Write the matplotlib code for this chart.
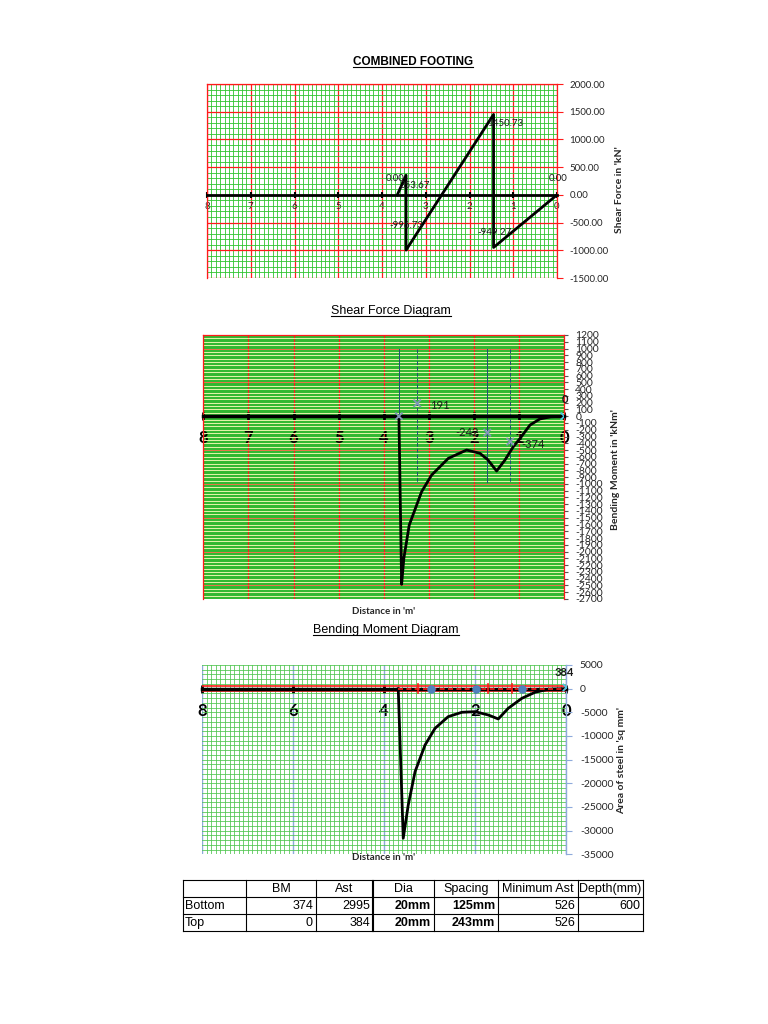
import matplotlib
matplotlib.use("Agg")
import matplotlib.pyplot as plt
from matplotlib.ticker import MultipleLocator, FormatStrFormatter
from matplotlib.lines import Line2D
import numpy as np

plt.rcParams['axes.unicode_minus'] = False
plt.rcParams['font.family'] = ['Lato', 'DejaVu Sans']

# ---------------- data ----------------
# Shear force diagram
sf_x = [3.65, 3.45, 3.45, 1.45, 1.45, 0.0]
sf_y = [0.0, 353.67, -996.73, 1450.73, -949.27, 0.0]

# Bending moment diagram
bm_x = [3.665, 3.605, 3.556, 3.436, 3.162, 2.94, 2.57, 2.165, 1.87, 1.70, 1.50,
        1.315, 1.13, 0.98, 0.76, 0.54, 0.30, 0.0]
bm_y = [0, -2483, -2099, -1607, -1115, -869, -622, -499, -548, -640, -809,
        -647, -450, -327, -130, -40, -8, 0]
sec_x = [3.665, 3.26, 1.707, 1.20, 0.0]
sec_bm = [0, 191, -242, -374, 0]
sec_lines_x = [3.665, 3.26, 1.707, 1.20]

# Area of steel diagram
ast_x = [3.69, 3.58, 3.47, 3.32, 3.10, 2.88, 2.59, 2.29, 2.0, 1.71, 1.49, 1.27,
         0.97, 0.68, 0.39, 0.0]
ast_y = [0, -31600, -24580, -17540, -11900, -8370, -5910, -4990, -4860, -5560,
         -6400, -4140, -2030, -760, -130, 0]
ast_marks_x = [3.25, 1.71, 1.19]
bar_x = [2.98, 1.98, 0.97]
top_ast = 384
min_ast = 526

# Table
tbl_header = ["", "BM", "Ast", "Dia", "Spacing", "Minimum Ast", "Depth(mm)"]
tbl_rows = [["Bottom", "374", "2995", "20mm", "125mm", "526", "600"],
            ["Top", "0", "384", "20mm", "243mm", "526", ""]]

# ---------------- figure ----------------
W, H = 768, 1024
fig = plt.figure(figsize=(W / 100, H / 100), dpi=100)


def box(l, t, r, b):
    return [l / W, 1 - b / H, (r - l) / W, (b - t) / H]


# overlay for titles / table
ov = fig.add_axes([0, 0, 1, 1], zorder=5)
ov.set_xlim(0, W)
ov.set_ylim(H, 0)
ov.axis('off')

# ---------- top chart: shear force ----------
ax1 = fig.add_axes(box(207, 84, 557, 278))
ax1.set_xlim(8, 0)
ax1.set_ylim(-1500, 2000)
ax1.xaxis.set_major_locator(MultipleLocator(1))
ax1.xaxis.set_minor_locator(MultipleLocator(0.1))
ax1.yaxis.set_major_locator(MultipleLocator(500))
ax1.yaxis.set_minor_locator(MultipleLocator(100))
ax1.grid(which='minor', color='#2ec42e', lw=0.6)
ax1.grid(which='major', color='#ff1a1a', lw=0.9)
ax1.set_axisbelow(True)
for s in ['left', 'top', 'right']:
    ax1.spines[s].set_color('#ff1a1a')
    ax1.spines[s].set_linewidth(0.9)
ax1.spines['bottom'].set_position(('data', 0))
ax1.spines['bottom'].set_linewidth(2)
ax1.yaxis.tick_right()
ax1.yaxis.set_major_formatter(FormatStrFormatter('%.2f'))
ax1.tick_params(axis='y', which='major', labelsize=7, colors='#ff1a1a',
                labelcolor='#262626', length=4, pad=5)
ax1.tick_params(axis='y', which='minor', length=0)
ax1.tick_params(axis='x', which='major', direction='inout', length=5, width=1.5,
                labelsize=7, labelcolor='#262626', pad=3)
ax1.tick_params(axis='x', which='minor', length=0)
ax1.plot(sf_x, sf_y, color='black', lw=2, zorder=3)
sf_offsets = [(-1.5, 11.5), (6, -7.7), (0, 18), (8.5, -6.8), (0.6, 10.7), (0.6, 11.5)]
for x, y, off in zip(sf_x, sf_y, sf_offsets):
    ax1.annotate(f"{y:.2f}", (x, y), xytext=off, textcoords='offset points',
                 ha='center', va='center', fontsize=7, color='#1a1a1a', zorder=4)

# ---------- middle chart: bending moment ----------
ax2 = fig.add_axes(box(203.3, 335, 564.3, 599))
ax2.set_xlim(8, 0)
ax2.set_ylim(-2700, 1200)
ax2.set_facecolor('#30b830')
ax2.xaxis.set_major_locator(MultipleLocator(1))
ax2.yaxis.set_major_locator(MultipleLocator(100))
ax2.yaxis.set_minor_locator(MultipleLocator(50))
ax2.grid(which='both', axis='y', color='#dff2a6', lw=0.75)
ax2.grid(which='major', axis='x', color='#ff1a1a', lw=0.9)
for yv in np.arange(-2500, 1201, 500):
    ax2.axhline(yv, color='#e8603a', lw=0.6, zorder=0.6)
ax2.set_axisbelow(True)
for s in ['left', 'top', 'right']:
    ax2.spines[s].set_color('#ff1a1a')
    ax2.spines[s].set_linewidth(0.9)
ax2.spines['bottom'].set_position(('data', 0))
ax2.spines['bottom'].set_linewidth(2.5)
ax2.yaxis.tick_right()
ax2.yaxis.set_major_formatter(FormatStrFormatter('%d'))
ax2.tick_params(axis='y', which='major', labelsize=7.5, colors='#555555',
                labelcolor='#262626', length=3, pad=5)
ax2.tick_params(axis='y', which='minor', length=0)
ax2.tick_params(axis='x', which='major', direction='inout', length=6, width=2,
                labelsize=12, pad=7)
for lab in ax2.get_xticklabels():
    lab.set_fontweight('bold')
for i, xv in enumerate(sec_lines_x):
    ax2.plot([xv, xv], [1000, -970], color='#1f4e79', lw=0.7,
             ls='-' if i % 2 == 0 else (0, (4, 2)), zorder=2)
ax2.plot(bm_x, bm_y, color='black', lw=2, zorder=3)
mcols = ['#8096b8', '#8096b8', '#8096b8', '#8096b8', '#4fc3e0']
ax2.scatter(sec_x, sec_bm, marker='x', s=28, c=mcols, linewidths=1.3, zorder=4)
bm_offsets = [None, (16.4, -1.3), (-14.7, 0.4), (16.4, -1.8), (0.5, 12.4)]
for x, y, off in zip(sec_x, sec_bm, bm_offsets):
    if off is None:
        continue
    ax2.annotate(f"{y:d}", (x, y), xytext=off, textcoords='offset points',
                 ha='center', va='center', fontsize=8, color='#1a1a1a',
                 fontweight='bold' if x == 0 else 'normal', zorder=5)

# ---------- bottom chart: area of steel ----------
ax3 = fig.add_axes(box(202.3, 665, 566, 854.3))
ax3.set_xlim(8, 0)
ax3.set_ylim(-35000, 5000)
ax3.xaxis.set_major_locator(MultipleLocator(2))
ax3.xaxis.set_minor_locator(MultipleLocator(0.1))
ax3.yaxis.set_major_locator(MultipleLocator(5000))
ax3.yaxis.set_minor_locator(MultipleLocator(1000))
ax3.grid(which='minor', color='#4cc44c', lw=0.55)
ax3.grid(which='major', axis='y', color='#4cc44c', lw=0.55)
ax3.grid(which='major', axis='x', color='#8eaadb', lw=1.0)
ax3.set_axisbelow(True)
for s in ['left', 'top']:
    ax3.spines[s].set_visible(False)
ax3.spines['right'].set_color('#8eaadb')
ax3.spines['right'].set_linewidth(1)
ax3.spines['bottom'].set_position(('data', 0))
ax3.spines['bottom'].set_linewidth(2.5)
ax3.yaxis.tick_right()
ax3.yaxis.set_major_formatter(FormatStrFormatter('%d'))
ax3.tick_params(axis='y', which='major', labelsize=7.5, colors='#8eaadb',
                labelcolor='#262626', length=4, pad=6)
ax3.tick_params(axis='y', which='minor', length=0)
ax3.tick_params(axis='x', which='major', direction='inout', length=6, width=2,
                labelsize=12, pad=7)
ax3.tick_params(axis='x', which='minor', length=0)
for lab in ax3.get_xticklabels():
    lab.set_fontweight('bold')
ax3.plot([8, 0], [min_ast, min_ast], color='#ff1a1a', lw=1.2, zorder=2)
ax3.plot([8, 0], [-min_ast, -min_ast], color='#ff1a1a', lw=1.2, zorder=2)
ax3.plot([ast_x[0], 0], [0, 0], color='#ff1a1a', lw=1.2, ls=(0, (3, 2)), zorder=3.5)
for xv in ast_marks_x:
    ax3.plot([xv, xv], [1000, -1000], color='#ff1a1a', lw=1.2, zorder=3.5)
ax3.scatter(bar_x, [0] * len(bar_x), marker='o', s=26, color='#4f81bd', zorder=4)
ax3.plot(ast_x, ast_y, color='black', lw=2, zorder=3)
ax3.scatter([0], [top_ast], marker='x', s=28, color='#4fc3e0', linewidths=1.3, zorder=4)
ax3.annotate(f"{top_ast}", (0, top_ast), xytext=(-1, 10), textcoords='offset points',
             ha='center', va='center', fontsize=8, fontweight='bold', color='#1a1a1a')

# ---------- axis titles ----------
fig.text(620 / W, 1 - 190 / H, "Shear Force in 'kN'", rotation=90, ha='center',
         va='center', fontsize=7.5, fontweight='bold', color='#262626')
fig.text(615 / W, 1 - 470 / H, "Bending Moment in 'kNm'", rotation=90, ha='center',
         va='center', fontsize=7.5, fontweight='bold', color='#262626')
fig.text(622 / W, 1 - 760 / H, "Area of steel in 'sq mm'", rotation=90, ha='center',
         va='center', fontsize=7.5, fontweight='bold', color='#262626')
ov.text(384, 611, "Distance in 'm'", ha='center', va='center', fontsize=7,
        fontweight='bold', color='#262626')
ov.text(384, 858, "Distance in 'm'", ha='center', va='center', fontsize=7,
        fontweight='bold', color='#262626')

t1 = ov.text(413, 62, "COMBINED FOOTING", ha='center', va='center', fontsize=8.5,
             fontweight='bold', family='Liberation Sans')
t2 = ov.text(391, 311, "Shear Force Diagram", ha='center', va='center', fontsize=9,
             family='Liberation Sans')
t3 = ov.text(386, 630, "Bending Moment Diagram", ha='center', va='center', fontsize=9,
             family='Liberation Sans')

# ---------- table ----------
cols = [183, 246, 316, 373, 434, 498, 578, 643]
rows = [880, 897, 914, 931]
for yv in rows:
    ov.plot([cols[0], cols[-1]], [yv, yv], color='black', lw=0.8)
for xv in cols:
    ov.plot([xv, xv], [rows[0], rows[-1]], color='black', lw=0.8)
ov.plot([cols[3] - 1.5, cols[3] - 1.5], [rows[0], rows[-1]], color='black', lw=0.8)
for j, h in enumerate(tbl_header):
    ov.text((cols[j] + cols[j + 1]) / 2, (rows[0] + rows[1]) / 2 + 0.5, h,
            ha='center', va='center', fontsize=9, family='Liberation Sans')
for i, r in enumerate(tbl_rows):
    yc = (rows[i + 1] + rows[i + 2]) / 2 + 0.5
    for j, v in enumerate(r):
        if j == 0:
            ov.text(cols[0] + 2, yc, v, ha='left', va='center', fontsize=9,
                    family='Liberation Sans')
        else:
            ov.text(cols[j + 1] - 3, yc, v, ha='right', va='center', fontsize=9,
                    family='Liberation Sans',
                    fontweight='bold' if j in (3, 4) else 'normal')

# underlines
fig.canvas.draw()
for t in (t1, t2, t3):
    bb = t.get_window_extent()
    yl = bb.y0 + 1
    fig.add_artist(Line2D([bb.x0 / W, bb.x1 / W], [yl / H, yl / H],
                          color='black', lw=0.8))

fig.savefig("out.png", dpi=100)
